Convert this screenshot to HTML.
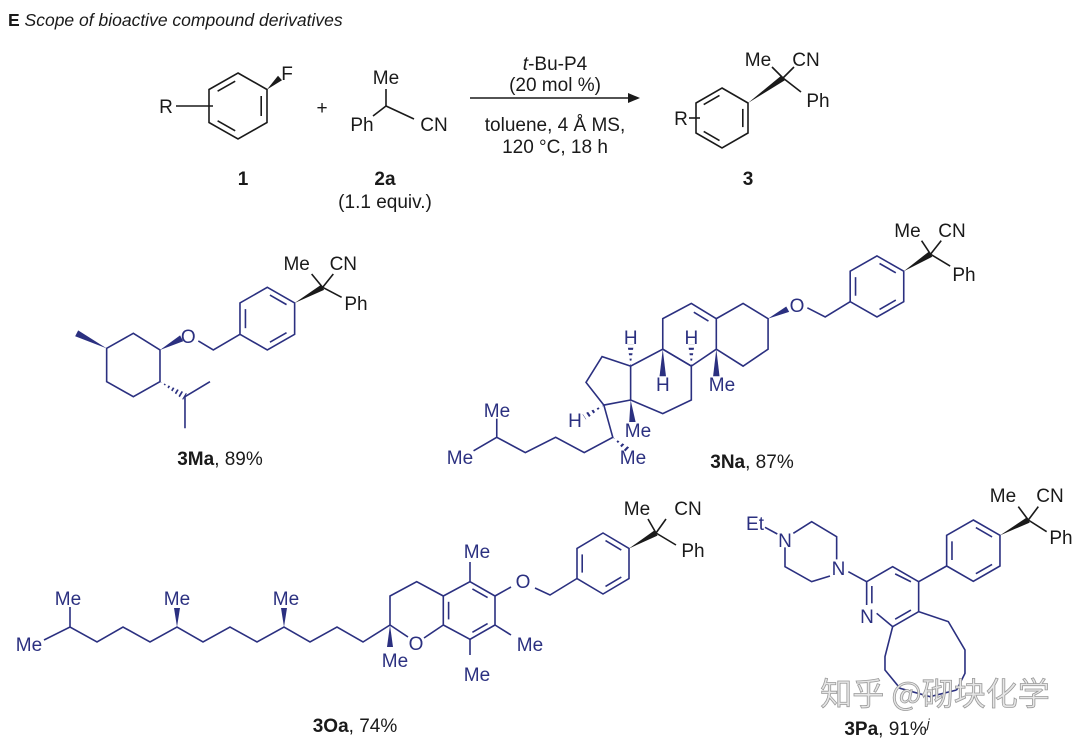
<!DOCTYPE html>
<html><head><meta charset="utf-8"><style>
html,body{margin:0;padding:0;background:#fff;}
svg{display:block;}
text{font-family:"Liberation Sans","Noto Sans CJK SC",sans-serif;font-size:19px;}
.k line,.k polyline,.k path{stroke:#1a1a1a;fill:none;stroke-width:1.6;}
.n line,.n polyline,.n path{stroke:#2b3080;fill:none;stroke-width:1.6;vector-effect:non-scaling-stroke;}
.kk line,.kk polyline,.kk path{stroke:#1a1a1a;fill:none;stroke-width:1.6;vector-effect:non-scaling-stroke;}
.tn{fill:#2b3080;}
.tk{fill:#1a1a1a;}
</style></head><body>
<svg width="1080" height="740" viewBox="0 0 1080 740" xmlns="http://www.w3.org/2000/svg">
<defs>
<clipPath id="h1"><polygon points="480,545 549.3,599.4 560.7,580.6"/></clipPath>
<clipPath id="h2"><polygon points="760,490 769,425 751,425"/></clipPath>
<clipPath id="h3"><polygon points="590,490 599,425 581,425"/></clipPath>
<clipPath id="h4"><polygon points="515,605 464.8,647.6 455.2,632.4"/></clipPath>
<clipPath id="h5"><polygon points="540,700 579,746.75 591,733.25"/></clipPath>
</defs>

<!-- Title -->
<text x="8" y="26" style="font-size:17.5px" class="tk"><tspan font-weight="bold" font-style="normal">E</tspan><tspan font-style="italic"> Scope of bioactive compound derivatives</tspan></text>

<!-- Top scheme -->
<g class="k">
<path d="M238,73 L267,89.5 L267,122.5 L238,139 L209,122.5 L209,89.5 Z"/>
<line x1="217.6" y1="91.2" x2="235.2" y2="81.2"/>
<line x1="261.2" y1="96" x2="261.2" y2="116"/>
<line x1="235.2" y1="130.8" x2="217.6" y2="120.8"/>
<line x1="176" y1="106" x2="213" y2="106"/>
<!-- 2a -->
<line x1="386" y1="89" x2="386" y2="106"/>
<line x1="386" y1="106" x2="373" y2="116"/>
<line x1="386" y1="106" x2="414" y2="119"/>
<!-- arrow -->
<line x1="470" y1="98" x2="632" y2="98"/>
<!-- product 3 -->
<path d="M722,88 L748,103 L748,133 L722,148 L696,133 L696,103 Z"/>
<line x1="703.7" y1="104.6" x2="719.5" y2="95.4"/>
<line x1="742.8" y1="108.9" x2="742.8" y2="127.1"/>
<line x1="719.5" y1="140.6" x2="703.7" y2="131.4"/>
<line x1="689" y1="118" x2="700" y2="118"/>
<line x1="783" y1="78" x2="772" y2="67"/>
<line x1="783" y1="78" x2="794" y2="67"/>
<line x1="783" y1="78" x2="801" y2="92"/>
</g>
<polygon points="640,98 628,93 628,103" fill="#1a1a1a"/>
<polygon points="267,89.5 282,80.2 278,75.8" fill="#1a1a1a"/>
<polygon points="748,103 784.7,80.4 781.3,75.6" fill="#1a1a1a"/>
<g class="tk" text-anchor="middle">
<text x="166" y="113">R</text>
<text x="287" y="80">F</text>
<text x="322" y="114">+</text>
<text x="386" y="84">Me</text>
<text x="362" y="131">Ph</text>
<text x="434" y="131">CN</text>
<text x="555" y="70"><tspan font-style="italic">t</tspan>-Bu-P4</text>
<text x="555" y="91">(20 mol %)</text>
<text x="555" y="131">toluene, 4 Å MS,</text>
<text x="555" y="153">120 °C, 18 h</text>
<text x="681" y="125">R</text>
<text x="758" y="66">Me</text>
<text x="806" y="66">CN</text>
<text x="818" y="107">Ph</text>
<text x="243" y="185" font-weight="bold">1</text>
<text x="385" y="185" font-weight="bold">2a</text>
<text x="385" y="208">(1.1 equiv.)</text>
<text x="748" y="185" font-weight="bold">3</text>
</g>

<!-- 3Ma -->
<g transform="translate(0,200) scale(0.3333)">
<g class="n">
<path d="M802,262 L884,309 L884,403 L802,450 L720,403 L720,309 Z"/>
<line x1="809.9" y1="285.3" x2="859.7" y2="313.9"/>
<line x1="859.7" y1="398.1" x2="809.9" y2="426.7"/>
<line x1="736.4" y1="384.6" x2="736.4" y2="327.4"/>
<polyline points="720,403 640,450 595,423"/>
<path d="M480,450 L400,400 L320,445 L320,545 L400,590 L480,545 Z"/>
<polyline points="630,545 555,590 555,685"/>
</g>
<g class="kk">
<line x1="968" y1="262" x2="935" y2="222"/>
<line x1="968" y1="262" x2="1000" y2="222"/>
<line x1="968" y1="262" x2="1025" y2="292"/>
</g>
<polygon points="884,309 972.4,269.8 963.6,254.2" fill="#1a1a1a"/>
<polygon points="480,450 549.7,423.8 540.3,406.2" fill="#2b3080"/>
<polygon points="320,445 234.5,391.1 225.5,408.9" fill="#2b3080"/>
<line x1="480" y1="545" x2="560" y2="593" stroke="#2b3080" stroke-width="34" stroke-dasharray="5 9" clip-path="url(#h1)"/>
</g>
<text x="188.3" y="343" text-anchor="middle" class="tn">O</text>
<g class="tk" text-anchor="middle">
<text x="296.7" y="270">Me</text>
<text x="343.3" y="270">CN</text>
<text x="356" y="310">Ph</text>
<text x="220" y="465"><tspan font-weight="bold">3Ma</tspan>, 89%</text>
</g>

<!-- 3Na -->
<g transform="translate(420,200) scale(0.357,0.339)">
<g class="n">
<path d="M1280,165 L1355,210 L1355,300 L1280,345 L1205,300 L1205,210 Z"/>
<line x1="1287.2" y1="187.3" x2="1332.8" y2="214.7"/>
<line x1="1332.8" y1="295.3" x2="1287.2" y2="322.7"/>
<line x1="1220" y1="282.4" x2="1220" y2="227.6"/>
<polyline points="1205,300 1135,345 1085,318"/>
<path d="M975,350 L905,305 L830,350 L830,440 L905,490 L975,440 Z"/>
<polyline points="830,350 760,305 680,350 680,440 760,490 830,440"/>
<line x1="808" y1="357" x2="767" y2="331"/>
<path d="M680,440 L760,490 L760,590 L680,630 L590,590 L590,490 Z"/>
<polyline points="590,490 510,462 465,538 515,605 590,590"/>
<polyline points="515,605 540,700 460,745 380,700 295,745 215,700 150,740"/>
<line x1="215" y1="700" x2="215" y2="645"/>
</g>
<g class="kk">
<line x1="1430" y1="160" x2="1405" y2="120"/>
<line x1="1430" y1="160" x2="1460" y2="120"/>
<line x1="1430" y1="160" x2="1485" y2="195"/>
</g>
<polygon points="1355,210 1435,167.5 1425,152.5" fill="#1a1a1a"/>
<polygon points="975,350 1034.1,330 1025.9,314" fill="#2b3080"/>
<polygon points="680,440 689,520 671,520" fill="#2b3080"/>
<polygon points="830,440 839,520 821,520" fill="#2b3080"/>
<polygon points="590,590 604,655 586,655" fill="#2b3080"/>
<line x1="760" y1="490" x2="760" y2="425" stroke="#2b3080" stroke-width="24" stroke-dasharray="6 10" clip-path="url(#h2)"/>
<line x1="590" y1="490" x2="590" y2="425" stroke="#2b3080" stroke-width="24" stroke-dasharray="6 10" clip-path="url(#h3)"/>
<line x1="515" y1="605" x2="458" y2="641" stroke="#2b3080" stroke-width="24" stroke-dasharray="6 10" clip-path="url(#h4)"/>
<line x1="540" y1="700" x2="587" y2="742" stroke="#2b3080" stroke-width="24" stroke-dasharray="6 10" clip-path="url(#h5)"/>
</g>
<g class="tn" text-anchor="middle">
<text x="797" y="312">O</text>
<text x="691.4" y="344">H</text>
<text x="630.7" y="344">H</text>
<text x="662.9" y="391">H</text>
<text x="722" y="391">Me</text>
<text x="638" y="437">Me</text>
<text x="575" y="427">H</text>
<text x="497" y="417">Me</text>
<text x="460" y="464">Me</text>
<text x="633" y="464">Me</text>
</g>
<g class="tk" text-anchor="middle">
<text x="907.5" y="237">Me</text>
<text x="952" y="237">CN</text>
<text x="964" y="281">Ph</text>
<text x="752" y="468"><tspan font-weight="bold">3Na</tspan>, 87%</text>
</g>

<!-- 3Oa -->
<g class="n">
<path d="M603,533 L629,548.5 L629,578.5 L603,594 L577,578.5 L577,548.5 Z"/>
<line x1="605.5" y1="540.6" x2="621.3" y2="550"/>
<line x1="621.3" y1="577" x2="605.5" y2="586.4"/>
<line x1="582.2" y1="572.6" x2="582.2" y2="554.4"/>
<polyline points="577,578.5 550,595 535,588"/>
<path d="M470,581.7 L495,596 L495,625 L470,639.3 L443.3,625 L443.3,596 Z"/>
<line x1="472.4" y1="588.9" x2="487.6" y2="597.6"/>
<line x1="487.6" y1="623.6" x2="472.4" y2="632.3"/>
<line x1="448.6" y1="619.4" x2="448.6" y2="601.8"/>
<line x1="470" y1="581.7" x2="470" y2="562"/>
<line x1="495" y1="596" x2="511" y2="587"/>
<line x1="495" y1="625" x2="511" y2="635"/>
<line x1="470" y1="639.3" x2="470" y2="655"/>
<polyline points="443.3,596 416.7,581.7 390,596 390,625 408,637"/>
<line x1="424" y1="638" x2="443.3" y2="625"/>
<polyline points="390,625 363,642 337,627 310,642 284,627 257,642 230,627 203,642 177,627 150,642 123,627 97,642 70,627 44,640"/>
<line x1="70" y1="627" x2="70" y2="607"/>
</g>
<g class="k">
<line x1="656" y1="533" x2="648" y2="519"/>
<line x1="656" y1="533" x2="666" y2="519"/>
<line x1="656" y1="533" x2="676" y2="545"/>
</g>
<polygon points="629,548.5 657.5,535.6 654.5,530.4" fill="#1a1a1a"/>
<polygon points="284,627 287,608 281,608" fill="#2b3080"/>
<polygon points="177,627 180,608 174,608" fill="#2b3080"/>
<polygon points="390,625 393,647 387,647" fill="#2b3080"/>
<g class="tn" text-anchor="middle">
<text x="477" y="558">Me</text>
<text x="523" y="588">O</text>
<text x="530" y="651">Me</text>
<text x="477" y="681">Me</text>
<text x="416" y="650">O</text>
<text x="395" y="667">Me</text>
<text x="286" y="605">Me</text>
<text x="177" y="605">Me</text>
<text x="68" y="605">Me</text>
<text x="29" y="651">Me</text>
</g>
<g class="tk" text-anchor="middle">
<text x="637" y="515">Me</text>
<text x="688" y="515">CN</text>
<text x="693" y="557">Ph</text>
<text x="355" y="732"><tspan font-weight="bold">3Oa</tspan>, 74%</text>
</g>

<!-- 3Pa -->
<g transform="translate(700,470) scale(0.3333)">
<g class="n">
<line x1="195" y1="172" x2="232" y2="192"/>
<polyline points="280,190 335,155 410,200 410,268"/>
<polyline points="390,318 335,335 255,290 255,232"/>
<line x1="445" y1="305" x2="500" y2="335"/>
<polyline points="530,430 578,470 656,425 656,335 578,290 500,335 500,405"/>
<line x1="515.6" y1="348" x2="515.6" y2="400"/>
<line x1="585.5" y1="311.7" x2="632.9" y2="335.3"/>
<line x1="632.9" y1="420.3" x2="585.5" y2="447.7"/>
<path d="M820,150 L900,196 L900,288 L820,334 L740,288 L740,196 Z"/>
<line x1="827.7" y1="172.8" x2="876.3" y2="200.8"/>
<line x1="876.3" y1="283.2" x2="827.7" y2="311.2"/>
<line x1="756" y1="270" x2="756" y2="214"/>
<line x1="656" y1="335" x2="740" y2="288"/>
<polyline points="656,425 745,455 795,540 795,610 770,660"/>
<polyline points="578,470 555,560 555,600 600,655 690,680 770,660"/>
</g>
<g class="kk">
<line x1="985" y1="150" x2="955" y2="110"/>
<line x1="985" y1="150" x2="1015" y2="110"/>
<line x1="985" y1="150" x2="1040" y2="185"/>
</g>
<polygon points="900,196 989.3,157.9 980.7,142.1" fill="#1a1a1a"/>
</g>
<g class="tn" text-anchor="middle">
<text x="755" y="530">Et</text>
<text x="785" y="547">N</text>
<text x="838.5" y="575">N</text>
<text x="867" y="623">N</text>
</g>
<g class="tk" text-anchor="middle">
<text x="1003" y="502">Me</text>
<text x="1050" y="502">CN</text>
<text x="1061" y="544">Ph</text>
<text x="887" y="735"><tspan font-weight="bold">3Pa</tspan>, 91%<tspan font-style="italic" font-size="13" dy="-7">j</tspan></text>
</g>
<text x="935" y="705" text-anchor="middle" style="font-size:32px;fill:#e6e6e6;stroke:#9a9a9a;stroke-width:0.8;font-family:'Noto Sans CJK SC','WenQuanYi Zen Hei',sans-serif;">知乎 @砌块化学</text>
</svg>
</body></html>
